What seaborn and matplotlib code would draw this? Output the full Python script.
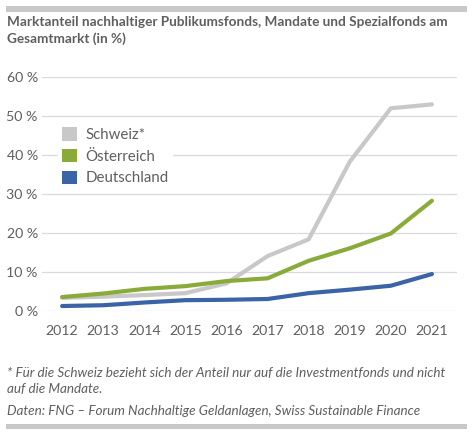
import pandas as pd
import matplotlib.pyplot as plt
import seaborn as sns
from matplotlib.patches import Patch, Rectangle

years = [2012, 2013, 2014, 2015, 2016, 2017, 2018, 2019, 2020, 2021]
schweiz = [3.3, 3.6, 4.0, 4.5, 7.0, 14.0, 18.3, 38.2, 51.9, 52.9]
oesterreich = [3.5, 4.4, 5.6, 6.3, 7.6, 8.3, 12.8, 16.0, 19.8, 28.2]
deutschland = [1.2, 1.4, 2.1, 2.7, 2.8, 3.0, 4.5, 5.4, 6.4, 9.4]

series_names = ["Schweiz*", "Österreich", "Deutschland"]
colors = ["#c8c8c8", "#8aab3a", "#3b64a6"]
y_ticks = [0, 10, 20, 30, 40, 50, 60]

title = "Marktanteil nachhaltiger Publikumsfonds, Mandate und Spezialfonds am\nGesamtmarkt (in %)"
footnote = ("* Für die Schweiz bezieht sich der Anteil nur auf die Investmentfonds und nicht\n"
            "auf die Mandate.")
source = "Daten: FNG – Forum Nachhaltige Geldanlagen, Swiss Sustainable Finance"

df = pd.DataFrame({
    "Jahr": years * 3,
    "Anteil": schweiz + oesterreich + deutschland,
    "Land": [series_names[0]] * len(years) + [series_names[1]] * len(years) + [series_names[2]] * len(years),
})

sns.set_style("white")
plt.rcParams["font.family"] = ["Lato", "DejaVu Sans"]
text_col = "#5f5f5f"

fig = plt.figure(figsize=(4.74, 4.34), dpi=100)
W, H = 474, 434
ax = fig.add_axes([42 / W, (H - 310.7) / H, (457 - 42) / W, (310.7 - 76.7) / H])

sns.lineplot(data=df, x="Jahr", y="Anteil", hue="Land", hue_order=series_names,
             palette=colors, linewidth=3, legend=False, ax=ax, zorder=3)

ax.set_xlim(2011.51, 2021.61)
ax.set_ylim(0, 60)
ax.set_yticks(y_ticks)
ax.set_yticklabels([f"{t} %" for t in y_ticks])
ax.set_xticks(years)
ax.set_xticklabels([str(y) for y in years])
ax.grid(axis="y", color="#d9d9e3", linewidth=0.9, zorder=0)
ax.grid(axis="x", visible=False)
for s in ax.spines.values():
    s.set_visible(False)
ax.tick_params(axis="both", length=0, labelsize=10.2, labelcolor=text_col)
ax.tick_params(axis="y", pad=3)
ax.tick_params(axis="x", pad=10)
ax.set_xlabel("")
ax.set_ylabel("")

handles = [Patch(facecolor=c, edgecolor="none") for c in colors]
leg = ax.legend(handles, series_names, loc="upper left", bbox_to_anchor=(0.02, 0.835),
                frameon=True, fontsize=10.8, labelcolor=text_col, handlelength=1.0,
                handleheight=1.0, handletextpad=0.55, labelspacing=0.45, borderpad=0.3)
leg.get_frame().set_facecolor("white")
leg.get_frame().set_edgecolor("none")
leg.get_frame().set_alpha(1)
leg.set_zorder(5)

fig.patches.append(Rectangle((6 / W, (H - 12) / H), 461 / W, 6 / H, transform=fig.transFigure,
                             facecolor="#c8c8c8", edgecolor="none"))
fig.patches.append(Rectangle((6 / W, (H - 429) / H), 461 / W, 5 / H, transform=fig.transFigure,
                             facecolor="#c8c8c8", edgecolor="none"))

fig.text(7 / W, 1 - 16 / H, title, ha="left", va="top", fontsize=9.8, color=text_col,
         weight="bold", linespacing=1.45)
fig.text(7 / W, 1 - 367 / H, footnote, ha="left", va="top", fontsize=9.7, color=text_col,
         style="italic", linespacing=1.4)
fig.text(7 / W, 1 - 405 / H, source, ha="left", va="top", fontsize=9.7, color=text_col,
         style="italic")

fig.savefig("out.png", dpi=100)
